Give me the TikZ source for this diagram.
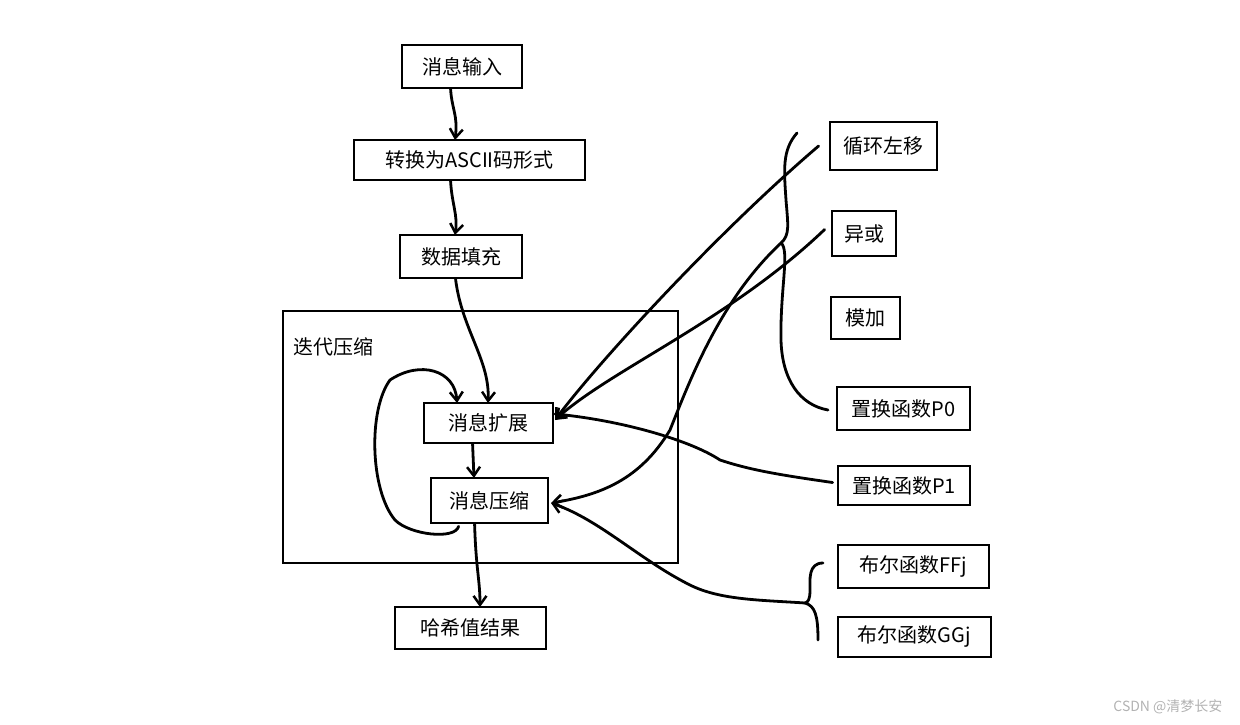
\documentclass[tikz,border=0pt]{standalone}
\usepackage{fontspec}
\setmainfont{Noto Sans CJK SC}
\usetikzlibrary{arrows.meta}
\begin{document}
\begin{tikzpicture}[x=1pt,y=-1pt,
  bx/.style={draw,line width=2.8pt,inner sep=0pt},
  tx/.style={font=\fontsize{20}{23}\selectfont},
  ln/.style={line width=2.8pt,line cap=round,line join=round},
  ar/.style={ln,-{Straight Barb[length=9pt,width=13pt,line width=2.5pt]}}]
\useasboundingbox (0,0) rectangle (1240,725);
\newcommand{\bxat}[5]{\node[bx,minimum width=#3-#1,minimum height=#4-#2] (#5) at ({(#1+#3)/2},{(#2+#4)/2}) {};}
\bxat{402}{45}{522}{88}{in}\node[tx] at (in) {消息输入};
\bxat{354}{140}{585}{180}{asc}\node[tx] at (asc) {转换为ASCII码形式};
\bxat{400}{235}{522}{278}{pad}\node[tx] at (pad) {数据填充};
\bxat{283}{311}{678}{563}{big}\node[tx,anchor=west] (bl) at (290,347) {迭代压缩};
\bxat{424}{403}{553}{443}{ext}\node[tx] at (ext) {消息扩展};
\bxat{431}{478}{548}{523}{cmp}\node[tx] at (cmp) {消息压缩};
\bxat{395}{607}{546}{649}{res}\node[tx] at (res) {哈希值结果};
\bxat{830}{122}{937}{170}{rot}\node[tx] at (rot) {循环左移};
\bxat{832}{211}{896}{256}{xor}\node[tx] at (xor) {异或};
\bxat{831}{297}{900}{339}{add}\node[tx] at (add) {模加};
\bxat{837}{387}{970}{430}{pz}\node[tx] at (pz) {置换函数P0};
\bxat{838}{466}{970}{505}{po}\node[tx] at (po) {置换函数P1};
\bxat{838}{545}{989}{588}{ff}\node[tx] at (ff) {布尔函数FFj};
\bxat{838}{617}{991}{657}{gg}\node[tx] at (gg) {布尔函数GGj};
\node[text=gray!60,anchor=east] (wm) at (1226,707) {\fontsize{14}{16}\selectfont CSDN @清梦长安};
\coordinate (b1) at (781,243);
\coordinate (b2) at (805,603);
% main flow
\draw[ar] (in.south west)++(50,0) .. controls (452,110) and (458,115) .. (455,140);
\draw[ar] (asc.south west)++(98,0) .. controls (452,205) and (458,215) .. (455,235);
\draw[ar] (pad.south west)++(57,0) .. controls (462,330) and (490,360) .. (488,403);
\draw[ar] (ext.south west)++(50,0) -- (474,478);
\draw[ar] (cmp.south west)++(45,0) .. controls (476,570) and (480,580) .. (480,607);
\draw[ar] (cmp.south west)++(29,2) .. controls (455,540) and (410,535) .. (395,520)
  .. controls (370,490) and (368,410) .. (390,380) .. controls (420,360) and (455,370) .. (457,403);
% right side
\draw[ar] (rot.west)++(-10,0) .. controls (720,230) and (600,360) .. (555,420);
\draw[ar] (xor.west)++(-6,-4) .. controls (730,320) and (610,370) .. (555,420);
\draw[ln] (po.west)++(-4,-3) .. controls (780,475) and (750,470) .. (720,460) .. controls (690,440) and (620,420) .. (555,414);
\draw[ln] (797,133) .. controls (782,150) and (784,170) .. (786,200) .. controls (788,225) and (790,235) .. (b1)
  .. controls (790,250) and (780,290) .. (781,340) .. controls (782,380) and (800,405) .. (828,410);
\draw[ar] (b1) .. controls (720,300) and (690,380) .. (670,430) .. controls (640,480) and (600,495) .. (551,503);
\draw[ln] (823,563) .. controls (808,563) and (810,580) .. (810,590) .. controls (810,600) and (808,602) .. (b2)
  .. controls (815,606) and (818,615) .. (818,640);
\draw[ar] (b2) .. controls (760,600) and (720,600) .. (690,585) .. controls (640,560) and (600,520) .. (551,503);
\end{tikzpicture}
\end{document}
